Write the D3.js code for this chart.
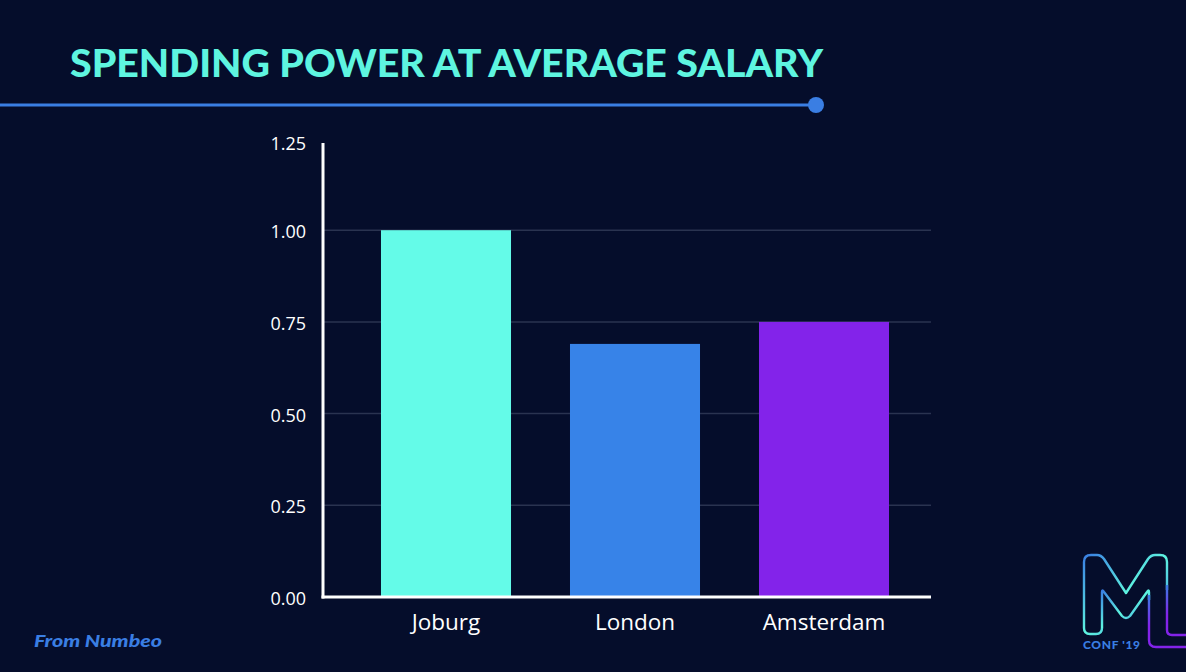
<!DOCTYPE html>
<html><head><meta charset="utf-8">
<script src="https://cdn.jsdelivr.net/npm/d3@7"></script>
<style>html,body{margin:0;padding:0;background:#050d2b;}svg{display:block;}</style>
</head><body>
<svg id="chart" width="1186" height="672"></svg>
<script>
const categories = ["Joburg", "London", "Amsterdam"];
const values = [1.0, 0.69, 0.75];
const colors = ["#64fbe8", "#3783e8", "#8323ea"];
const yTicks = [0, 0.25, 0.5, 0.75, 1.0, 1.25];
const title = "SPENDING POWER AT AVERAGE SALARY";
const source = "From Numbeo";

const svg = d3.select("#chart");
svg.append("rect").attr("width",1186).attr("height",672).attr("fill","#050d2b");

// title
svg.append("text").attr("x",70).attr("y",77).text(title)
  .attr("fill","#5ef5e0").attr("font-family","Lato, 'Open Sans', sans-serif")
  .attr("font-weight",900).attr("font-size",37).attr("textLength",753).attr("lengthAdjust","spacingAndGlyphs");
svg.append("line").attr("x1",0).attr("x2",815).attr("y1",105).attr("y2",105)
  .attr("stroke","#3a7ee3").attr("stroke-width",3);
svg.append("circle").attr("cx",816).attr("cy",105).attr("r",8).attr("fill","#3a7ee3");

const left = 323, right = 931, bottom = 597;
const y = d3.scaleLinear().domain([0,1.25]).range([bottom,138.5]);
const x = d3.scaleBand().domain(categories).range([351.5,918.5]).paddingInner(0.312).paddingOuter(0.156);

// gridlines
svg.append("g").selectAll("line").data(yTicks.filter(t=>t>0 && t<1.25)).join("line")
  .attr("x1",left).attr("x2",right).attr("y1",d=>y(d)).attr("y2",d=>y(d))
  .attr("stroke","#2a3350").attr("stroke-width",1.5);

// bars
svg.append("g").selectAll("rect").data(values).join("rect")
  .attr("x",(d,i)=>x(categories[i])).attr("width",x.bandwidth())
  .attr("y",d=>y(d)).attr("height",d=>bottom-y(d))
  .attr("fill",(d,i)=>colors[i]);

// y axis
const yAxis = svg.append("g").attr("transform",`translate(${left},0)`)
  .call(d3.axisLeft(y).tickValues(yTicks).tickFormat(d3.format(".2f")).tickSize(0).tickPadding(17));
yAxis.select(".domain").attr("stroke","#ffffff").attr("stroke-width",3).attr("d",`M0,143V${bottom+1.5}`);
yAxis.selectAll("text").attr("fill","#ffffff").attr("font-family","'Open Sans', Lato, sans-serif").attr("font-size",18)
  .attr("dy",(d)=> d===1.25 ? "0.62em" : "0.42em");

// x axis
const xAxis = svg.append("g").attr("transform",`translate(0,${bottom})`)
  .call(d3.axisBottom(x).tickSize(0).tickPadding(17));
xAxis.select(".domain").attr("stroke","#ffffff").attr("stroke-width",3).attr("d",`M${left-1.5},0H${right}`);
xAxis.selectAll("text").attr("fill","#ffffff").attr("font-family","'Open Sans', Lato, sans-serif").attr("font-size",22.5);

// source
svg.append("text").attr("x",34).attr("y",647).text(source)
  .attr("fill","#3a7ee3").attr("font-family","Lato, 'Open Sans', sans-serif")
  .attr("font-weight",900).attr("font-style","italic").attr("font-size",17.5).attr("textLength",128).attr("lengthAdjust","spacingAndGlyphs");

// logo
const defs = svg.append("defs");
const g1 = defs.append("linearGradient").attr("id","mg").attr("x1","0").attr("y1","0").attr("x2","1").attr("y2","1");
g1.append("stop").attr("offset","0%").attr("stop-color","#3a7ee3");
g1.append("stop").attr("offset","50%").attr("stop-color","#5ef5e0");
g1.append("stop").attr("offset","100%").attr("stop-color","#3a7ee3");
const g2 = defs.append("linearGradient").attr("id","lg").attr("x1","0").attr("y1","0").attr("x2","0").attr("y2","1");
g2.append("stop").attr("offset","0%").attr("stop-color","#3a7ee3");
g2.append("stop").attr("offset","60%").attr("stop-color","#8323ea");
const logo = svg.append("g").attr("fill","none").attr("stroke-width",2.4).attr("stroke-linejoin","round");
logo.append("path").attr("stroke","url(#mg)")
  .attr("d","M1102,628 Q1102,634 1096,634 L1090,634 Q1084,634 1084,628 L1084,562 Q1084,555 1091,555 L1097,555 Q1101,555 1104,559 L1126,593 L1148,559 Q1151,555 1155,555 L1160,555 Q1167,555 1167,562 L1167,590");
logo.append("path").attr("stroke","url(#mg)")
  .attr("d","M1102,628 L1102,592 Q1102,589 1104,592 L1122,616 Q1126,620 1130,616 L1147,592 Q1149,589 1149,592 L1149,600");
logo.append("path").attr("stroke","url(#lg)")
  .attr("d","M1167,585 L1167,630 Q1167,635 1172,635 L1186,635");
logo.append("path").attr("stroke","url(#lg)")
  .attr("d","M1149,595 L1149,640 Q1149,647 1156,647 L1186,647");
svg.append("text").attr("x",1083).attr("y",649).text("CONF '19")
  .attr("fill","#3a7ee3").attr("font-family","Lato, sans-serif").attr("font-weight",900).attr("font-size",12).attr("textLength",57);
</script>
</body></html>
